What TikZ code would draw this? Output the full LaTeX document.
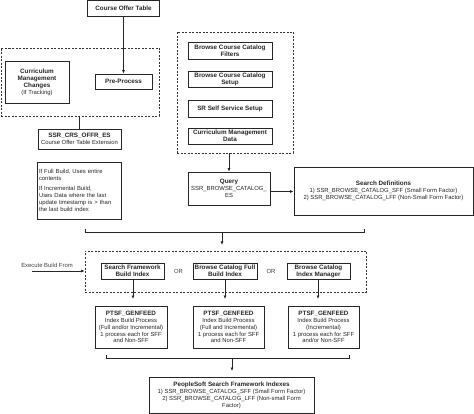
\documentclass[tikz,border=0pt]{standalone}
\usepackage{fontspec}
\setmainfont{Liberation Sans}
\usetikzlibrary{arrows.meta}
\newcommand{\tb}[1]{{\fontsize{6.3}{6.9}\selectfont\bfseries #1}}
\begin{document}
\begin{tikzpicture}[x=1pt,y=-1pt,
  box/.style={draw=black!85,line width=0.8pt,rectangle,inner sep=1pt,align=center,
    font=\fontsize{5.9}{6.9}\selectfont,text=black!85},
  grp/.style={draw=black!80,line width=0.7pt,dash pattern=on 2pt off 1.5pt,rectangle,inner sep=0pt},
  arr/.style={-{Latex[length=3.5pt,width=3pt]},line width=0.7pt,draw=black!85},
  ln/.style={line width=0.7pt,draw=black!85},
  lbl/.style={font=\fontsize{5.9}{6.9}\selectfont,text=black!75,inner sep=0pt},
]
\useasboundingbox (0,0) rectangle (474,414);
\newcommand{\bx}[6]{\node[box,minimum width=#4,minimum height=#5] (#1) at (#2,#3) {#6};}
\newcommand{\gp}[5]{\node[grp,minimum width=#4,minimum height=#5] (#1) at (#2,#3) {};}

% top-left
\bx{cot}{123.5}{8.3}{72}{15.5}{\tb{Course Offer Table}}
\gp{grpL}{80}{82}{158}{68}
\bx{cmc}{37}{82}{64}{42}{\tb{Curriculum}\\\tb{Management}\\\tb{Changes}\\(If Tracking)}
\bx{pre}{123.5}{81.5}{57}{15}{\tb{Pre-Process}}
\bx{crs}{79.5}{139}{83}{20}{\tb{SSR\_CRS\_OFFR\_ES}\\Course Offer Table Extension}
\node[box,minimum width=84,minimum height=57,align=left,text width=80pt] (note) at (79,190.5)
  {If Full Build, Uses entire\\contents\\[3pt]If Incremental Build,\\Uses Data where the last\\update timestamp is > than\\the last build index};
\draw[arr] (cot.south) -- (pre.north);
\draw[ln] (grpL.south -| crs.north) -- (crs.north);

% top-right
\gp{grpR}{235}{92.5}{116}{121}
\bx{bf}{230}{50.5}{84}{17}{\tb{Browse Course Catalog}\\\tb{Filters}}
\bx{bs}{230}{79}{84}{16}{\tb{Browse Course Catalog}\\\tb{Setup}}
\bx{sr}{230}{108.5}{84}{17}{\tb{SR Self Service Setup}}
\bx{cmd}{230}{136}{84}{16}{\tb{Curriculum Management}\\\tb{Data}}
\bx{query}{229}{188.5}{82}{33}{\tb{Query}\\SSR\_BROWSE\_CATALOG\_\\ES}
\bx{sd}{383.5}{191}{179}{48}{\tb{Search Definitions}\\1) SSR\_BROWSE\_CATALOG\_SFF (Small Form Factor)\\2) SSR\_BROWSE\_CATALOG\_LFF (Non-Small Form Factor)}
\draw[arr] (grpR.south -| query.north) -- (query.north);
\draw[arr] ([yshift=-3pt]query.east) -- ([yshift=-3pt]query.east -| sd.west);

% bracket 1
\coordinate (b1a) at (222,232);
\coordinate (b1b) at (222,245);
\draw[ln] (85,229) -- (85,232) -- (364,232) -- (364,229);
\draw[arr] (b1a) -- (b1b);

% build row
\gp{grpB}{225.5}{271.5}{281}{41}
\node[lbl] (exec) at (47,265) {Execute Build From};
\coordinate (execs) at (32,271);
\draw[arr] (execs) -- (execs -| grpB.west);
\bx{sfb}{132.5}{271}{63}{16}{\tb{Search Framework}\\\tb{Build Index}}
\bx{bcf}{225}{271}{64}{16}{\tb{Browse Catalog Full}\\\tb{Build Index}}
\bx{bci}{318.5}{271}{63}{16}{\tb{Browse Catalog}\\\tb{Index Manager}}
\node[lbl] (or1) at (178.5,271) {OR};
\node[lbl] (or2) at (271,271) {OR};

\bx{p1}{131}{327}{72}{42}{\tb{PTSF\_GENFEED}\\Index Build Process\\(Full and/or Incremental)\\1 process each for SFF\\and Non-SFF}
\bx{p2}{228.5}{327}{71}{42}{\tb{PTSF\_GENFEED}\\Index Build Process\\(Full and Incremental)\\1 process each for SFF\\and Non-SFF}
\bx{p3}{323.5}{327}{71}{42}{\tb{PTSF\_GENFEED}\\Index Build Process\\(Incremental)\\1 process each for SFF\\and/or Non-SFF}
\coordinate (e1) at (133,299);
\coordinate (e2) at (225,299);
\coordinate (e3) at (318,299);
\draw[arr] (sfb.south -| e1) -- (e1);
\draw[arr] (bcf.south -| e2) -- (e2);
\draw[arr] (bci.south -| e3) -- (e3);

% bracket 2
\coordinate (b2a) at (232,358);
\coordinate (b2b) at (232,371);
\draw[ln] (106,355) -- (106,358) -- (349,358) -- (349,355);
\draw[arr] (b2a) -- (b2b);

\bx{ps}{231.5}{395}{165}{36}{\tb{PeopleSoft Search Framework Indexes}\\1) SSR\_BROWSE\_CATALOG\_SFF (Small Form Factor)\\2) SSR\_BROWSE\_CATALOG\_LFF (Non-small Form\\Factor)}
\end{tikzpicture}
\end{document}
